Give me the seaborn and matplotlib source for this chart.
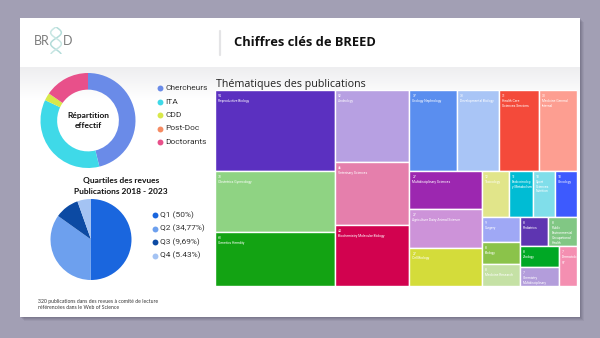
import textwrap
import numpy as np
import matplotlib
matplotlib.use("Agg")
import matplotlib.pyplot as plt
from matplotlib.patches import Rectangle
from matplotlib.colors import LinearSegmentedColormap
import seaborn as sns

# ---------------- data ----------------
staff_categories = ["Chercheurs", "ITA", "CDD", "Post-Doc", "Doctorants"]
staff_counts = [18, 14, 1, 0, 6]
staff_colors = ["#6a8be8", "#3fd9e8", "#d8e84a", "#f58b63", "#e8508a"]

quartile_labels = ["Q1 (50%)", "Q2 (34,77%)", "Q3 (9,69%)", "Q4 (5.43%)"]
quartile_shares = [50.0, 34.77, 9.69, 5.43]
quartile_colors = ["#1a66de", "#6da0ee", "#0c4aa3", "#a4c3f3"]

topic_names = [
    "Reproductive Biology", "Obstetrics Gynecology", "Genetics Heredity",
    "Andrology", "Veterinary Sciences", "Biochemistry Molecular Biology",
    "Urology Nephrology", "Developmental Biology", "Health Care Sciences Services",
    "Medicine General Internal", "Multidisciplinary Sciences",
    "Agriculture Dairy Animal Science", "Cell Biology", "Toxicology",
    "Endocrinology Metabolism", "Sport Sciences Nutrition", "Oncology",
    "Surgery", "Biology", "Medicine Research", "Pediatrics",
    "Public Environmental Occupational Health", "Zoology",
    "Chemistry Multidisciplinary", "Dermatology",
]
topic_counts = [94, 70, 63, 52, 46, 44, 37, 33, 31, 30, 27, 27, 27,
                12, 11, 10, 10, 9, 8, 8, 8, 8, 8, 7, 7]
topic_colors = [
    "#5b30c0", "#8fd383", "#13a313", "#b7a0e2", "#e57fac", "#d2024f",
    "#5a8eef", "#a9c5f6", "#f44a3a", "#fd9e91", "#9c27b0", "#cd93d9",
    "#d4dc3a", "#e1e58a", "#00bcd4", "#80deea", "#3d5afe", "#9fa8f5",
    "#8bc34a", "#c5e1a5", "#5e35b1", "#81c784", "#00a825", "#b39ddb",
    "#f48fb1",
]

footnote = "320 publications dans des revues à comité de lecture\nréférencées dans le Web of Science"

# ---------------- figure ----------------
sns.set_theme(style="white")
plt.rcParams["font.family"] = ["Open Sans", "DejaVu Sans"]

W_PX, H_PX = 600, 338
fig = plt.figure(figsize=(6, 3.38), dpi=100)
fig.patch.set_facecolor("#a29fb4")


def px_axes(x, y, w, h, z=1):
    ax = fig.add_axes([x / W_PX, 1 - (y + h) / H_PX, w / W_PX, h / H_PX])
    ax.set_zorder(z)
    return ax


bg = px_axes(0, 0, 600, 338, z=0)
bg.set_facecolor("none")
bg.axis("off")
# slide shadow
for k, a in enumerate([0.10, 0.14, 0.18, 0.22]):
    bg.add_patch(Rectangle((20 + 4 - k, 18 + 4 - k), 560, 299,
                           facecolor="#5c596e", alpha=a, edgecolor="none"))
bg.add_patch(Rectangle((20, 18), 560, 299, facecolor="white", edgecolor="none"))
# soft band under header
cmap = LinearSegmentedColormap.from_list("band", ["#eeeef0", "#ffffff"])
grad = np.linspace(0, 1, 40).reshape(-1, 1)
bg.imshow(grad, extent=(20, 580, 100, 67), cmap=cmap, aspect="auto", zorder=1)
bg.set_xlim(0, 600)
bg.set_ylim(338, 0)

# header
bg.plot([220, 220], [31, 55], color="#e4e4e6", lw=1.6, zorder=2)
bg.text(234, 43, "Chiffres clés de BREED", fontsize=9.3, fontweight="bold",
        color="#111111", va="center", ha="left", zorder=3)
bg.text(34, 41, "BR", fontsize=9, color="#7d7d7d", va="center", ha="left",
        family=["Lato", "DejaVu Sans"], zorder=3)
bg.text(63, 41, "D", fontsize=9, color="#7d7d7d", va="center", ha="left",
        family=["Lato", "DejaVu Sans"], zorder=3)
logo = px_axes(49, 27, 14, 27, z=2)
logo.axis("off")
tt = np.linspace(0, 2.4 * np.pi, 80)
logo.plot(0.5 + 0.38 * np.sin(tt), tt, color="#b3dcd9", lw=1.1)
logo.plot(0.5 - 0.38 * np.sin(tt), tt, color="#c7e6e3", lw=1.1)
logo.set_xlim(0, 1)
logo.set_ylim(tt.max(), 0)

# section titles / footnote
bg.text(216, 84, "Thématiques des publications", fontsize=7.75, color="#222222",
        va="center", ha="left", zorder=3)
bg.text(121, 181, "Quartiles des revues", fontsize=6, fontweight="bold",
        family=["Lato", "DejaVu Sans"], color="#111111", ha="center", va="center", zorder=3)
bg.text(121, 191.5, "Publications 2018 - 2023", fontsize=6, fontweight="bold",
        family=["Lato", "DejaVu Sans"], color="#111111", ha="center", va="center", zorder=3)
bg.text(38, 304.5, footnote, fontsize=3.7, color="#333333", ha="left",
        va="center", linespacing=1.35, family=["Lato", "DejaVu Sans"], zorder=3)

# ---------------- donut ----------------
dax = px_axes(40.5, 73, 95, 95, z=2)
vals = [v for v in staff_counts if v > 0]
cols = [c for v, c in zip(staff_counts, staff_colors) if v > 0]
dax.pie(vals, colors=cols, startangle=90, counterclock=False, radius=1,
        wedgeprops=dict(width=0.35, edgecolor="none"))
dax.set_xlim(-1, 1)
dax.set_ylim(-1, 1)
dax.set_aspect("equal")
dax.text(0, 0, "Répartition\neffectif", ha="center", va="center", fontsize=6,
         fontweight="bold", family=["Lato", "DejaVu Sans"], linespacing=1.5,
         color="#111111")

for i, (lab, c) in enumerate(zip(staff_categories, staff_colors)):
    yy = 88 + i * 13.5
    bg.scatter([160], [yy], s=18, color=c, zorder=4, linewidths=0)
    bg.text(165, yy, lab, fontsize=6, color="#333333", va="center", ha="left",
            family=["Roboto", "DejaVu Sans"], zorder=4)

# ---------------- pie ----------------
pax = px_axes(50.5, 199, 81, 81, z=2)
pax.pie(quartile_shares, colors=quartile_colors, startangle=90,
        counterclock=False, radius=1, wedgeprops=dict(edgecolor="none"))
pax.set_xlim(-1, 1)
pax.set_ylim(-1, 1)
pax.set_aspect("equal")

for i, (lab, c) in enumerate(zip(quartile_labels, quartile_colors)):
    yy = 215 + i * 13.5
    bg.scatter([155], [yy], s=18, color=c, zorder=4, linewidths=0)
    bg.text(160.5, yy, lab, fontsize=6, color="#333333", va="center", ha="left",
            family=["Roboto", "DejaVu Sans"], zorder=4)


# ---------------- treemap ----------------
def worst(row, L, ratio):
    A = sum(row)
    f = L * L * ratio
    return max(f * max(row) / (A * A), (A * A) / (f * min(row)))


def squarify_layout(values, x, y, w, h, ratio=1.5):
    total = float(sum(values))
    areas = [v * w * h / total for v in values]
    rects = []
    i = 0
    while i < len(areas):
        L = min(w, h)
        row = [areas[i]]
        best = worst(row, L, ratio)
        j = i + 1
        while j < len(areas):
            cand = row + [areas[j]]
            s = worst(cand, L, ratio)
            if s <= best:
                row, best = cand, s
                j += 1
            else:
                break
        A = sum(row)
        if w >= h:
            t = A / h
            yy = y
            for a in row:
                rects.append((x, yy, t, a / t))
                yy += a / t
            x += t
            w -= t
        else:
            t = A / w
            xx = x
            for a in row:
                rects.append((xx, y, a / t, t))
                xx += a / t
            y += t
            h -= t
        i = j
    return rects


tax = px_axes(215, 90, 362, 196, z=2)
tax.axis("off")
fig.canvas.draw()
bb = tax.get_window_extent()
TW, TH = bb.width, bb.height
tax.set_xlim(0, TW)
tax.set_ylim(TH, 0)
rects = squarify_layout(topic_counts, 0, 0, TW, TH, ratio=1.5)
for (x, y, w, h), name, cnt, col in zip(rects, topic_names, topic_counts, topic_colors):
    p = Rectangle((x, y), w, h, facecolor=col, edgecolor="white", lw=1.0)
    tax.add_patch(p)
    nchar = max(6, int(w / 2.0))
    label = f"{cnt}\n" + "\n".join(textwrap.wrap(name, nchar))
    t = tax.text(x + 3, y + 4, label, fontsize=2.4, color="white", va="top",
                 ha="left", linespacing=1.3, family=["Roboto", "DejaVu Sans"])
    t.set_clip_path(p)

fig.savefig("out.png", dpi=100, facecolor=fig.get_facecolor())
